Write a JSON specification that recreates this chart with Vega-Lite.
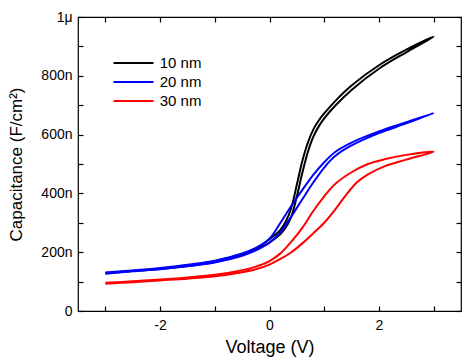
{
  "$schema": "https://vega.github.io/schema/vega-lite/v6.json",
  "width": 383,
  "height": 294,
  "autosize": {"type": "none"},
  "padding": {"left": 78, "top": 17, "right": 13, "bottom": 53},
  "background": "white",
  "config": {
    "view": {"stroke": "black", "strokeWidth": 1.2},
    "font": "Liberation Sans",
    "axis": {
      "domain": false, "labelColor": "black", "titleColor": "black",
      "grid": false, "labelFont": "Liberation Sans", "titleFont": "Liberation Sans",
      "labelFontSize": 14, "titleFontSize": 18, "titleFontWeight": "normal", "zindex": 1
    }
  },
  "datasets": {
    "d": [
      {"s": "10 nm", "o": 0, "v": -3, "c": 128}, {"s": "10 nm", "o": 1, "v": -2.5, "c": 136}, {"s": "10 nm", "o": 2, "v": -2, "c": 143}, {"s": "10 nm", "o": 3, "v": -1.5, "c": 153}, {"s": "10 nm", "o": 4, "v": -1, "c": 167}, {"s": "10 nm", "o": 5, "v": -0.5, "c": 190}, {"s": "10 nm", "o": 6, "v": -0.25, "c": 208}, {"s": "10 nm", "o": 7, "v": 0, "c": 233}, {"s": "10 nm", "o": 8, "v": 0.2, "c": 262}, {"s": "10 nm", "o": 9, "v": 0.3, "c": 285}, {"s": "10 nm", "o": 10, "v": 0.4, "c": 322}, {"s": "10 nm", "o": 11, "v": 0.5, "c": 390}, {"s": "10 nm", "o": 12, "v": 0.6, "c": 470}, {"s": "10 nm", "o": 13, "v": 0.7, "c": 540}, {"s": "10 nm", "o": 14, "v": 0.8, "c": 592}, {"s": "10 nm", "o": 15, "v": 0.9, "c": 628}, {"s": "10 nm", "o": 16, "v": 1.0, "c": 655}, {"s": "10 nm", "o": 17, "v": 1.2, "c": 698}, {"s": "10 nm", "o": 18, "v": 1.5, "c": 752}, {"s": "10 nm", "o": 19, "v": 2.0, "c": 824}, {"s": "10 nm", "o": 20, "v": 2.5, "c": 880}, {"s": "10 nm", "o": 21, "v": 3.0, "c": 933},
      {"s": "10 nm", "o": 22, "v": 2.5, "c": 889}, {"s": "10 nm", "o": 23, "v": 2.0, "c": 836}, {"s": "10 nm", "o": 24, "v": 1.5, "c": 767}, {"s": "10 nm", "o": 25, "v": 1.2, "c": 714}, {"s": "10 nm", "o": 26, "v": 1.0, "c": 672}, {"s": "10 nm", "o": 27, "v": 0.9, "c": 648}, {"s": "10 nm", "o": 28, "v": 0.8, "c": 617}, {"s": "10 nm", "o": 29, "v": 0.7, "c": 572}, {"s": "10 nm", "o": 30, "v": 0.6, "c": 510}, {"s": "10 nm", "o": 31, "v": 0.5, "c": 430}, {"s": "10 nm", "o": 32, "v": 0.4, "c": 352}, {"s": "10 nm", "o": 33, "v": 0.3, "c": 305}, {"s": "10 nm", "o": 34, "v": 0.2, "c": 276}, {"s": "10 nm", "o": 35, "v": 0, "c": 244}, {"s": "10 nm", "o": 36, "v": -0.25, "c": 213}, {"s": "10 nm", "o": 37, "v": -0.5, "c": 194}, {"s": "10 nm", "o": 38, "v": -1, "c": 169}, {"s": "10 nm", "o": 39, "v": -1.5, "c": 155}, {"s": "10 nm", "o": 40, "v": -2, "c": 144}, {"s": "10 nm", "o": 41, "v": -2.5, "c": 137}, {"s": "10 nm", "o": 42, "v": -3, "c": 129},
      {"s": "20 nm", "o": 0, "v": -3, "c": 127}, {"s": "20 nm", "o": 1, "v": -2.5, "c": 135}, {"s": "20 nm", "o": 2, "v": -2, "c": 142}, {"s": "20 nm", "o": 3, "v": -1.5, "c": 152}, {"s": "20 nm", "o": 4, "v": -1, "c": 165}, {"s": "20 nm", "o": 5, "v": -0.5, "c": 188}, {"s": "20 nm", "o": 6, "v": -0.25, "c": 206}, {"s": "20 nm", "o": 7, "v": 0, "c": 232}, {"s": "20 nm", "o": 8, "v": 0.2, "c": 268}, {"s": "20 nm", "o": 9, "v": 0.4, "c": 322}, {"s": "20 nm", "o": 10, "v": 0.6, "c": 380}, {"s": "20 nm", "o": 11, "v": 0.8, "c": 437}, {"s": "20 nm", "o": 12, "v": 1.0, "c": 488}, {"s": "20 nm", "o": 13, "v": 1.2, "c": 527}, {"s": "20 nm", "o": 14, "v": 1.5, "c": 563}, {"s": "20 nm", "o": 15, "v": 2.0, "c": 605}, {"s": "20 nm", "o": 16, "v": 2.5, "c": 638}, {"s": "20 nm", "o": 17, "v": 3.0, "c": 673},
      {"s": "20 nm", "o": 18, "v": 2.5, "c": 642}, {"s": "20 nm", "o": 19, "v": 2.0, "c": 611}, {"s": "20 nm", "o": 20, "v": 1.5, "c": 573}, {"s": "20 nm", "o": 21, "v": 1.2, "c": 541}, {"s": "20 nm", "o": 22, "v": 1.0, "c": 506}, {"s": "20 nm", "o": 23, "v": 0.8, "c": 463}, {"s": "20 nm", "o": 24, "v": 0.6, "c": 412}, {"s": "20 nm", "o": 25, "v": 0.4, "c": 358}, {"s": "20 nm", "o": 26, "v": 0.2, "c": 300}, {"s": "20 nm", "o": 27, "v": 0, "c": 246}, {"s": "20 nm", "o": 28, "v": -0.25, "c": 215}, {"s": "20 nm", "o": 29, "v": -0.5, "c": 196}, {"s": "20 nm", "o": 30, "v": -1, "c": 171}, {"s": "20 nm", "o": 31, "v": -1.5, "c": 157}, {"s": "20 nm", "o": 32, "v": -2, "c": 146}, {"s": "20 nm", "o": 33, "v": -2.5, "c": 138}, {"s": "20 nm", "o": 34, "v": -3, "c": 131},
      {"s": "30 nm", "o": 0, "v": -3, "c": 93}, {"s": "30 nm", "o": 1, "v": -2.5, "c": 98}, {"s": "30 nm", "o": 2, "v": -2, "c": 104}, {"s": "30 nm", "o": 3, "v": -1.5, "c": 110}, {"s": "30 nm", "o": 4, "v": -1, "c": 118}, {"s": "30 nm", "o": 5, "v": -0.5, "c": 132}, {"s": "30 nm", "o": 6, "v": -0.25, "c": 142}, {"s": "30 nm", "o": 7, "v": 0, "c": 158}, {"s": "30 nm", "o": 8, "v": 0.2, "c": 177}, {"s": "30 nm", "o": 9, "v": 0.4, "c": 200}, {"s": "30 nm", "o": 10, "v": 0.6, "c": 230}, {"s": "30 nm", "o": 11, "v": 0.8, "c": 264}, {"s": "30 nm", "o": 12, "v": 1.0, "c": 300}, {"s": "30 nm", "o": 13, "v": 1.2, "c": 345}, {"s": "30 nm", "o": 14, "v": 1.4, "c": 395}, {"s": "30 nm", "o": 15, "v": 1.6, "c": 438}, {"s": "30 nm", "o": 16, "v": 1.8, "c": 465}, {"s": "30 nm", "o": 17, "v": 2.1, "c": 492}, {"s": "30 nm", "o": 18, "v": 2.5, "c": 515}, {"s": "30 nm", "o": 19, "v": 3.0, "c": 542},
      {"s": "30 nm", "o": 20, "v": 2.5, "c": 531}, {"s": "30 nm", "o": 21, "v": 2.1, "c": 516}, {"s": "30 nm", "o": 22, "v": 1.8, "c": 500}, {"s": "30 nm", "o": 23, "v": 1.5, "c": 472}, {"s": "30 nm", "o": 24, "v": 1.2, "c": 432}, {"s": "30 nm", "o": 25, "v": 1.0, "c": 390}, {"s": "30 nm", "o": 26, "v": 0.8, "c": 340}, {"s": "30 nm", "o": 27, "v": 0.6, "c": 283}, {"s": "30 nm", "o": 28, "v": 0.4, "c": 236}, {"s": "30 nm", "o": 29, "v": 0.2, "c": 196}, {"s": "30 nm", "o": 30, "v": 0, "c": 170}, {"s": "30 nm", "o": 31, "v": -0.25, "c": 151}, {"s": "30 nm", "o": 32, "v": -0.5, "c": 139}, {"s": "30 nm", "o": 33, "v": -1, "c": 123}, {"s": "30 nm", "o": 34, "v": -1.5, "c": 114}, {"s": "30 nm", "o": 35, "v": -2, "c": 107}, {"s": "30 nm", "o": 36, "v": -2.5, "c": 101}, {"s": "30 nm", "o": 37, "v": -3, "c": 96}
    ]
  },
  "data": {"name": "d"},
  "layer": [
    {
      "mark": {"type": "line", "strokeWidth": 2, "interpolate": "catmull-rom"},
      "encoding": {
        "x": {
          "field": "v", "type": "quantitative",
          "scale": {"domain": [-3.5, 3.5], "nice": false, "zero": false},
          "axis": {
            "orient": "bottom", "title": "Voltage (V)",
            "values": [-3, -2, -1, 0, 1, 2, 3],
            "labelExpr": "datum.value % 2 == 0 ? '' + datum.value : ''",
            "ticks": true, "tickColor": "black", "tickWidth": 1.2, "tickSize": 5, "offset": -5,
            "labelPadding": 7, "titlePadding": 6
          }
        },
        "y": {
          "field": "c", "type": "quantitative",
          "scale": {"domain": [0, 1000], "nice": false},
          "axis": {
            "orient": "left", "title": "Capacitance (F/cm²)",
            "values": [0, 100, 200, 300, 400, 500, 600, 700, 800, 900, 1000],
            "labelExpr": "datum.value == 0 ? '0' : datum.value == 1000 ? '1μ' : datum.value % 200 == 0 ? datum.value + 'n' : ''",
            "ticks": true, "tickColor": "black", "tickWidth": 1.2, "tickSize": 5, "offset": -5,
            "labelPadding": 6, "titlePadding": 15, "titleFontSize": 17
          }
        },
        "color": {
          "field": "s", "type": "nominal",
          "scale": {"domain": ["10 nm", "20 nm", "30 nm"], "range": ["#000000", "#0000ff", "#ff0000"]},
          "legend": {
            "orient": "none", "legendX": 44.5, "legendY": 35, "title": null, "padding": 0,
            "symbolType": "M-2,0H2", "symbolSize": 400, "symbolStrokeWidth": 2,
            "labelOffset": 15.2, "labelFontSize": 15, "labelFont": "Liberation Sans", "labelColor": "black", "rowPadding": 0
          }
        },
        "order": {"field": "o", "type": "quantitative"}
      }
    },
    {
      "mark": {"type": "line", "strokeOpacity": 0},
      "encoding": {
        "x": {
          "field": "v", "type": "quantitative",
          "axis": {
            "orient": "top", "title": null, "labels": false,
            "values": [-3, -2, -1, 0, 1, 2, 3],
            "ticks": true, "tickColor": "black", "tickWidth": 1.2, "tickSize": 5, "offset": -5
          }
        },
        "y": {
          "field": "c", "type": "quantitative",
          "axis": {
            "orient": "right", "title": null, "labels": false,
            "values": [0, 100, 200, 300, 400, 500, 600, 700, 800, 900, 1000],
            "ticks": true, "tickColor": "black", "tickWidth": 1.2, "tickSize": 5, "offset": -5
          }
        },
        "detail": {"field": "s"},
        "order": {"field": "o", "type": "quantitative"}
      }
    }
  ],
  "resolve": {"axis": {"x": "independent", "y": "independent"}}
}
